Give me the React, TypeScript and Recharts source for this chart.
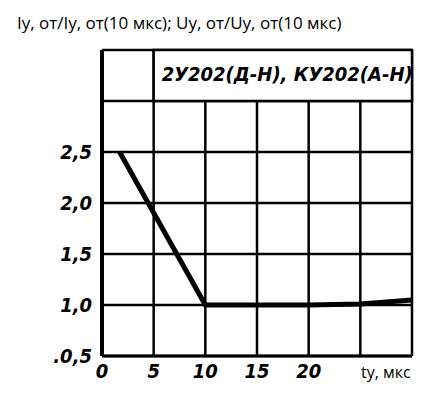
import React from "react";
import {
  LineChart,
  Line,
  XAxis,
  YAxis,
  CartesianGrid,
  ReferenceArea,
} from "recharts";

// values
const tValues: number[] = [1.7, 10, 15, 20, 25, 30];
const ratioValues: number[] = [2.5, 1.0, 1.0, 1.0, 1.01, 1.05];

const xTicks: number[] = [0, 5, 10, 15, 20, 25, 30];
const xTickLabels: string[] = ["0", "5", "10", "15", "20", "", ""];
const yTicks: number[] = [0.5, 1, 1.5, 2, 2.5, 3, 3.5];
const yTickLabels: string[] = [".0,5", "1,0", "1,5", "2,0", "2,5", "", ""];

const title = "Iу, от/Iу, от(10 мкс); Uу, от/Uу, от(10 мкс)";
const boxLabel = "2У202(Д-Н), КУ202(А-Н)";
const xUnit = "tу, мкс";

const data = tValues.map((t, i) => ({ t, r: ratioValues[i] }));

const tickFont = {
  fontFamily: "'DejaVu Sans Condensed', 'Liberation Sans', sans-serif",
  fontStyle: "italic",
  fontWeight: 700,
  fontSize: 20,
  fill: "#000",
};

const BoxLabel = (props: any) => {
  const { viewBox } = props;
  return (
    <text
      x={viewBox.x + 8}
      y={viewBox.y + 31}
      style={tickFont as any}
      fontSize={21}
      fill="#000"
    >
      {boxLabel}
    </text>
  );
};

export default function App() {
  return (
    <div
      style={{
        position: "absolute",
        left: 0,
        top: 0,
        width: 422,
        height: 393,
        background: "#fff",
      }}
    >
      <div
        style={{
          position: "absolute",
          left: 17,
          top: 11,
          fontFamily: "'Open Sans', sans-serif",
          fontSize: 17,
          color: "#000",
          whiteSpace: "nowrap",
        }}
      >
        {title}
      </div>
      <LineChart
        width={422}
        height={393}
        data={data}
        margin={{ top: 50, right: 10, bottom: 7, left: 0 }}
      >
        <CartesianGrid
          stroke="#000"
          strokeWidth={2.5}
          horizontalValues={yTicks}
          verticalValues={xTicks}
        />
        <XAxis
          dataKey="t"
          type="number"
          domain={[0, 30]}
          ticks={xTicks}
          tickFormatter={(v: number) => xTickLabels[xTicks.indexOf(v)] ?? ""}
          tickLine={false}
          axisLine={{ stroke: "#000", strokeWidth: 3 }}
          tick={tickFont}
          tickMargin={2}
          interval={0}
        />
        <YAxis
          type="number"
          domain={[0.5, 3.5]}
          ticks={yTicks}
          tickFormatter={(v: number) => yTickLabels[yTicks.indexOf(v)] ?? ""}
          tickLine={false}
          axisLine={{ stroke: "#000", strokeWidth: 4 }}
          tick={tickFont}
          tickMargin={4}
          width={102}
          interval={0}
        />
        <ReferenceArea
          x1={5}
          x2={30}
          y1={3}
          y2={3.5}
          fill="#fff"
          fillOpacity={1}
          stroke="#000"
          strokeWidth={2.5}
          label={<BoxLabel />}
        />
        <Line
          dataKey="r"
          stroke="#000"
          strokeWidth={5}
          dot={false}
          type="linear"
          isAnimationActive={false}
        />
      </LineChart>
      <div
        style={{
          position: "absolute",
          left: 361,
          top: 361,
          fontFamily: "'Open Sans', sans-serif",
          fontSize: 16,
          color: "#000",
          whiteSpace: "nowrap",
        }}
      >
        {xUnit}
      </div>
    </div>
  );
}
